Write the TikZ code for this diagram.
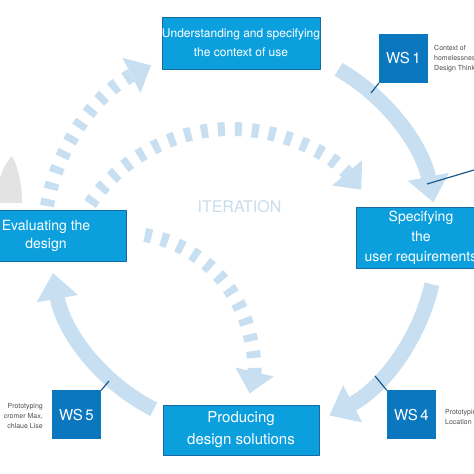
\documentclass[tikz,border=0pt]{standalone}
\usepackage{fontspec}
\setmainfont{TeX Gyre Heros}
\usetikzlibrary{arrows.meta}
\definecolor{boxblue}{HTML}{0BA0DD}
\definecolor{boxedge}{HTML}{1769A0}
\definecolor{wsblue}{HTML}{0A77BE}
\definecolor{arcblue}{HTML}{C7DFF0}
\definecolor{itercol}{HTML}{C9DCEB}
\definecolor{leadcol}{HTML}{1A5A8C}

\begin{document}
\begin{tikzpicture}[x=1pt, y=1pt, line join=round,
                    stage/.style={draw=boxedge, line width=0.8pt, fill=boxblue, text=white,
                                  align=center, inner sep=0pt, minimum width=156pt, minimum height=52pt,
                                  font=\fontsize{14}{20}\selectfont},
                    ws/.style={fill=wsblue, text=white, minimum size=49pt, inner sep=0pt,
                               font=\fontsize{15}{15}\selectfont},
                    flow/.style={arcblue, line width=15pt, -{Triangle[width=40pt,length=26pt]}},
                    iterdash/.style={arcblue, line width=14pt, dash pattern=on 7pt off 10pt,
                                     -{Triangle[width=38pt,length=22pt]}},
                    leader/.style={leadcol, line width=1.2pt},
                    note/.style={text=black!70, align=left, inner sep=0pt,
                                 font=\fontsize{7}{10}\selectfont}]
  \path[use as bounding box, fill=white] (0,0) rectangle (474,474);
  \coordinate (O) at (240,234); % centre of the cycle
  \coordinate (I) at (231,175); % centre of the upper iteration arc
  \coordinate (J) at (122,110); % centre of the lower iteration arc

  % grey tip at the left border
  \fill[gray!22] (0,271) -- (0,296) .. controls (4,308) .. (12,318)
                 .. controls (19,305) and (22,288) .. (22,271) -- cycle;

  % solid arcs of the cycle
  \foreach \a/\b/\r in {60/11/197, -13/-63/197, 243/190/190}
    \draw[flow] (O) ++(\a:\r pt) arc[start angle=\a, end angle=\b, radius=\r pt];

  % dashed iteration arcs
  \draw[iterdash] (O) ++(170:196pt) arc[start angle=170, end angle=117, radius=196pt];
  \draw[iterdash] (I) ++(146:170pt) arc[start angle=146, end angle=40, radius=170pt];
  \draw[iterdash] (J) ++(80:131pt) arc[start angle=80, end angle=-13, radius=131pt];

  \node[font=\fontsize{16}{16}\selectfont, text=itercol] (iter) at (239.5,267) {ITERATION};

  % the four stages
  \node[stage, font=\fontsize{12}{19}\selectfont] (context) at (241,431)
    {Understanding and specifying\\the context of use};
  \node[stage, minimum width=130pt, minimum height=61pt] (require) at (421,236.5)
    {Specifying\\the\\user requirements};
  \node[stage, minimum width=160pt, minimum height=51pt, font=\fontsize{14}{18}\selectfont] (evaluate) at (46,238.5)
    {Evaluating the\\design};
  \node[stage, minimum height=50pt, font=\fontsize{15}{22}\selectfont] (produce) at (241,44)
    {Producing\\design solutions};

  % workshops
  \foreach \n/\x/\y in {1/403.5/415.5, 4/411.5/59, 5/76.5/59}
    \node[ws] (ws\n) at (\x,\y) {WS\,\n};

  \coordinate (l1) at (371,381);
  \coordinate (l4) at (375,98);
  \coordinate (l5) at (109,93);
  \coordinate (l2a) at (427,290);
  \coordinate (l2b) at (474,304);
  \draw[leader] (ws1.south west) -- (l1);
  \draw[leader] (ws4.north west) -- (l4);
  \draw[leader] (ws5.north east) -- (l5);
  \draw[leader] (l2a) -- (l2b);

  \node[note, anchor=north west] (note1) at (434,429) {Context of\\homelessness\\Design Thinking};
  \node[note, anchor=north west] (note4) at (445,65) {Prototyping\\Location};
  \node[note, anchor=north east, align=right] (note5) at (43,71) {Prototyping\\cromer Max,\\chlaue Lise};
\end{tikzpicture}
\end{document}
